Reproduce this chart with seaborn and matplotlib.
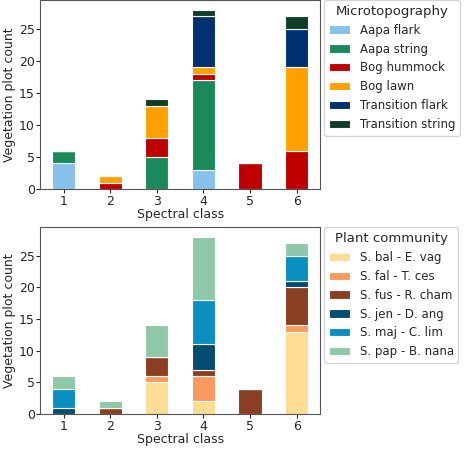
import numpy as np
import pandas as pd
import matplotlib
matplotlib.use("Agg")
import matplotlib.pyplot as plt
import seaborn as sns

classes = ["1", "2", "3", "4", "5", "6"]

micro_names = ["Aapa flark", "Aapa string", "Bog hummock", "Bog lawn", "Transition flark", "Transition string"]
aapa_flark = [4, 0, 0, 3, 0, 0]
aapa_string = [2, 0, 5, 14, 0, 0]
bog_hummock = [0, 1, 3, 1, 4, 6]
bog_lawn = [0, 1, 5, 1, 0, 13]
trans_flark = [0, 0, 0, 8, 0, 6]
trans_string = [0, 0, 1, 1, 0, 2]
micro_colors = ["#85c1ea", "#1b8a5a", "#c00000", "#ffa000", "#003070", "#0f3d28"]

plant_names = ["S. bal - E. vag", "S. fal - T. ces", "S. fus - R. cham", "S. jen - D. ang", "S. maj - C. lim", "S. pap - B. nana"]
s_bal = [0, 0, 5, 2, 0, 13]
s_fal = [0, 0, 1, 4, 0, 1]
s_fus = [0, 1, 3, 1, 4, 6]
s_jen = [1, 0, 0, 4, 0, 1]
s_maj = [3, 0, 0, 7, 0, 4]
s_pap = [2, 1, 5, 10, 0, 2]
plant_colors = ["#fddc94", "#fb9a5e", "#8a3e22", "#054d6e", "#0b8fc0", "#8fc8a8"]

sns.set_style("white")
plt.rcParams['font.family'] = ['DejaVu Sans']

fig = plt.figure(figsize=(4.74, 4.5), dpi=100)
ax1 = fig.add_axes([0.085, 0.58, 0.59, 0.42])
ax2 = fig.add_axes([0.085, 0.08, 0.59, 0.415])

def stack(ax, names, series, colors, title, legend_y):
    bottom = np.zeros(len(classes))
    for name, vals, c in zip(names, series, colors):
        df = pd.DataFrame({"cls": classes, "v": vals})
        sns.barplot(data=df, x="cls", y="v", ax=ax, color=c, bottom=bottom,
                    width=0.5, edgecolor="white", linewidth=0.8, label=name,
                    saturation=1)
        bottom = bottom + np.array(vals)
    ax.set_ylim(0, 29.5)
    ax.set_yticks([0, 5, 10, 15, 20, 25])
    ax.set_xlabel("Spectral class", fontsize=9, labelpad=0)
    ax.set_ylabel("Vegetation plot count", fontsize=9, labelpad=2)
    ax.tick_params(labelsize=9, length=3, pad=1, left=True, bottom=True)
    for s in ax.spines.values():
        s.set_color("#555555")
    ax.legend(title=title, loc="upper left", bbox_to_anchor=(1.015, legend_y),
              fontsize=8.5, title_fontsize=9.5, frameon=True, handlelength=1.8,
              borderaxespad=0)

stack(ax1, micro_names, [aapa_flark, aapa_string, bog_hummock, bog_lawn, trans_flark, trans_string],
      micro_colors, "Microtopography", 1.0)
stack(ax2, plant_names, [s_bal, s_fal, s_fus, s_jen, s_maj, s_pap],
      plant_colors, "Plant community", 1.0)

fig.savefig("out.png", dpi=100)
